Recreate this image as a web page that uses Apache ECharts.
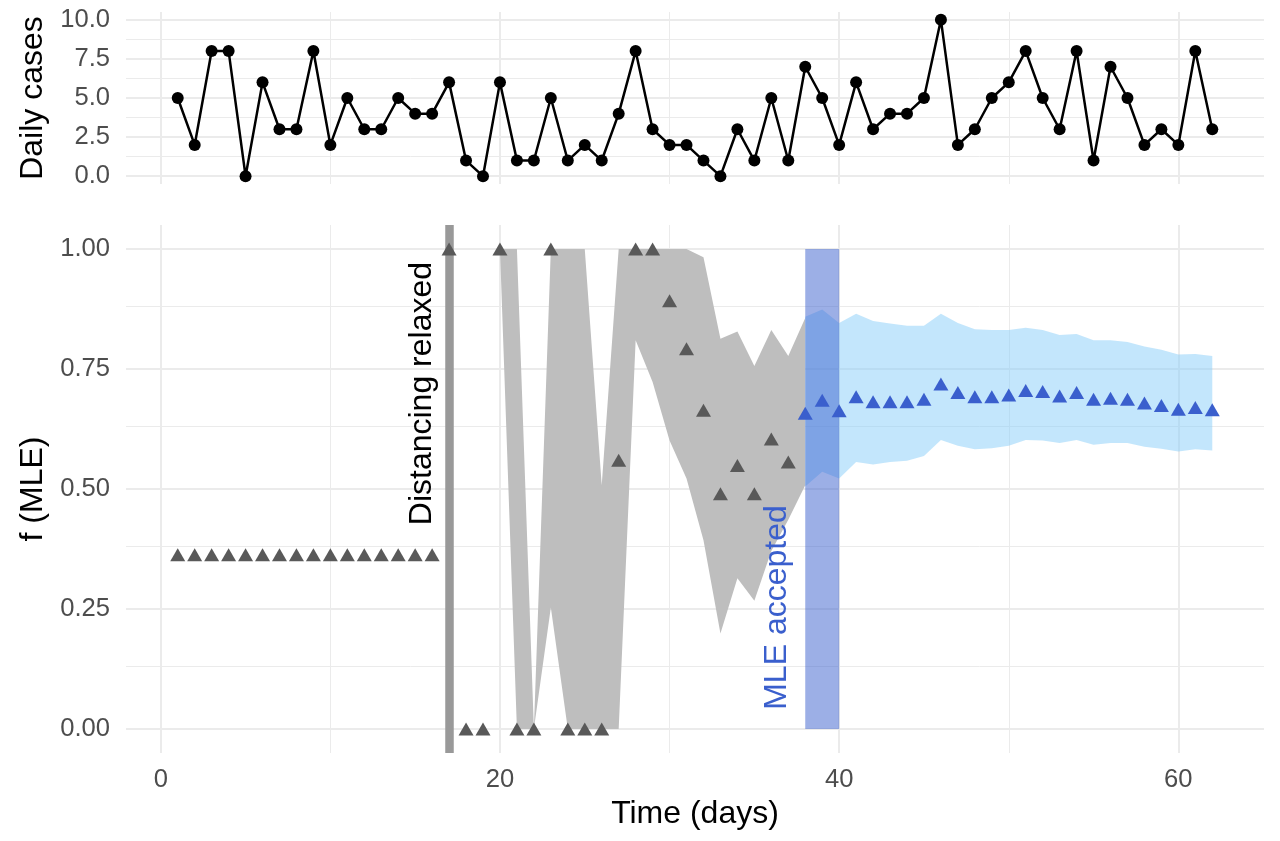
<!DOCTYPE html>
<html>
<head>
<meta charset="utf-8">
<script src="https://cdn.jsdelivr.net/npm/echarts@6/dist/echarts.min.js"></script>
<style>
  html, body { margin: 0; padding: 0; background: #fff; }
  #chart { width: 1280px; height: 841px; }
</style>
</head>
<body>
<div id="chart"></div>
<script>
(function() {
  'use strict';

  // daily case counts, days 1..62
  var days = [1, 2, 3, 4, 5, 6, 7, 8, 9, 10, 11, 12, 13, 14, 15, 16, 17, 18, 19, 20,
    21, 22, 23, 24, 25, 26, 27, 28, 29, 30, 31, 32, 33, 34, 35, 36, 37, 38, 39, 40,
    41, 42, 43, 44, 45, 46, 47, 48, 49, 50, 51, 52, 53, 54, 55, 56, 57, 58, 59, 60, 61, 62];
  var cases = [5, 2, 8, 8, 0, 6, 3, 3, 8, 2, 5, 3, 3, 5, 4, 4, 6, 1, 0, 6,
    1, 1, 5, 1, 2, 1, 4, 8, 3, 2, 2, 1, 0, 3, 1, 5, 1, 7, 5, 2,
    6, 3, 4, 4, 5, 10, 2, 3, 5, 6, 8, 5, 3, 8, 1, 7, 5, 2, 3, 2, 8, 3];

  // f (MLE) before acceptance (days 1..37)
  var grayDays = days.slice(0, 37);
  var fGray = [0.363, 0.363, 0.363, 0.363, 0.363, 0.363, 0.363, 0.363, 0.363, 0.363,
    0.363, 0.363, 0.363, 0.363, 0.363, 0.363, 1.0, 0, 0, 1.0,
    0, 0, 1.0, 0, 0, 0, 0.56, 1.0, 1.0, 0.892,
    0.792, 0.664, 0.49, 0.549, 0.49, 0.604, 0.556];

  // f (MLE) once accepted (days 38..62)
  var blueDays = days.slice(37);
  var fBlue = [0.658, 0.685, 0.663, 0.692, 0.682, 0.682, 0.682, 0.687, 0.719, 0.701,
    0.692, 0.692, 0.696, 0.705, 0.703, 0.694, 0.701, 0.687, 0.689, 0.687,
    0.679, 0.674, 0.666, 0.670, 0.665];

  // confidence bands
  var grayBandDays = days.slice(19, 38);
  var grayLo = [1.0, 0, 0, 0.253, 0, 0, 0, 0, 0.810, 0.723, 0.601, 0.522, 0.393, 0.199, 0.314, 0.267, 0.371, 0.436, 0.508];
  var grayHi = [1.0, 1.0, 0, 1.0, 1.0, 1.0, 0.508, 1.0, 1.0, 1.0, 1.0, 1.0, 0.983, 0.813, 0.828, 0.756, 0.831, 0.777, 0.856];
  var blueBandDays = days.slice(37);
  var blueLo = [0.505, 0.536, 0.522, 0.556, 0.551, 0.556, 0.559, 0.569, 0.602, 0.590,
    0.583, 0.585, 0.590, 0.602, 0.601, 0.596, 0.602, 0.592, 0.596, 0.596,
    0.588, 0.584, 0.578, 0.583, 0.580];
  var blueHi = [0.859, 0.874, 0.846, 0.865, 0.850, 0.845, 0.840, 0.840, 0.865, 0.846,
    0.833, 0.831, 0.831, 0.836, 0.831, 0.821, 0.823, 0.810, 0.810, 0.806,
    0.797, 0.790, 0.780, 0.781, 0.777];

  var relaxedDay = 17;
  var acceptedWindow = [38, 40];

  // ticks
  var xTicks = [0, 20, 40, 60];
  var xMinor = [10, 30, 50];
  var casesTicks = [0, 2.5, 5, 7.5, 10];
  var casesMinor = [1.25, 3.75, 6.25, 8.75];
  var fTicks = [0, 0.25, 0.5, 0.75, 1];
  var fMinor = [0.125, 0.375, 0.625, 0.875];

  var FONT = '"Liberation Sans", Arial, Helvetica, sans-serif';
  var GRID_COLOR = '#ebebeb';
  var GRAY_PT = '#595959';
  var BLUE_PT = '#3a5fcd';

  var notes = [
    { text: 'Distancing relaxed', x: 16.35, y: 0.973, color: '#000000', align: 'right' },
    { text: 'MLE accepted', x: 37.3, y: 0.04, color: BLUE_PT, align: 'left' }
  ];

  var gridLines = function(idx, yMajor, yMinor) {
    var lines = [];
    xTicks.forEach(function(v) { lines.push({ xAxis: v, lineStyle: { width: 2 } }); });
    xMinor.forEach(function(v) { lines.push({ xAxis: v, lineStyle: { width: 1 } }); });
    yMajor.forEach(function(v) { lines.push({ yAxis: v, lineStyle: { width: 2 } }); });
    yMinor.forEach(function(v) { lines.push({ yAxis: v, lineStyle: { width: 1 } }); });
    return {
      type: 'line',
      xAxisIndex: idx,
      yAxisIndex: idx,
      data: [],
      silent: true,
      markLine: {
        z: 0,
        silent: true,
        animation: false,
        symbol: ['none', 'none'],
        label: { show: false },
        emphasis: { disabled: true },
        lineStyle: { color: GRID_COLOR, type: 'solid' },
        data: lines
      }
    };
  };

  var band = function(xs, lo, hi, color) {
    return {
      type: 'custom',
      xAxisIndex: 1,
      yAxisIndex: 1,
      z: 1,
      silent: true,
      data: xs.map(function(x, i) { return [x, lo[i], hi[i]]; }),
      encode: { x: 0, y: [1, 2] },
      renderItem: function(params, api) {
        if (params.dataIndex !== 0) return null;
        var pts = [];
        for (var i = 0; i < xs.length; i++) pts.push(api.coord([xs[i], hi[i]]));
        for (var j = xs.length - 1; j >= 0; j--) pts.push(api.coord([xs[j], lo[j]]));
        return { type: 'polygon', shape: { points: pts }, style: { fill: color } };
      }
    };
  };

  var axisBase = {
    type: 'value',
    axisLine: { show: false },
    axisTick: { show: false },
    splitLine: { show: false }
  };

  var option = {
    animation: false,
    backgroundColor: '#ffffff',
    textStyle: { fontFamily: FONT },
    grid: [
      { left: 126, right: 16, top: 12, height: 172 },
      { left: 126, right: 16, top: 225, height: 528 }
    ],
    xAxis: [
      Object.assign({}, axisBase, {
        gridIndex: 0, min: -2.05, max: 65.05,
        axisLabel: { show: false }
      }),
      Object.assign({}, axisBase, {
        gridIndex: 1, min: -2.05, max: 65.05,
        axisLabel: {
          customValues: xTicks, color: '#4d4d4d', fontSize: 25.6, margin: 14,
          formatter: function(v) { return String(v); }
        },
        name: 'Time (days)', nameLocation: 'middle', nameGap: 45,
        nameTextStyle: { color: '#000', fontSize: 32 }
      })
    ],
    yAxis: [
      Object.assign({}, axisBase, {
        gridIndex: 0, min: -0.5, max: 10.5,
        axisLabel: {
          customValues: casesTicks, color: '#4d4d4d', fontSize: 25.6, margin: 16,
          formatter: function(v) { return v.toFixed(1); }
        },
        name: 'Daily cases', nameLocation: 'middle', nameGap: 74, nameRotate: 90,
        nameTextStyle: { color: '#000', fontSize: 32 }
      }),
      Object.assign({}, axisBase, {
        gridIndex: 1, min: -0.05, max: 1.05,
        axisLabel: {
          customValues: fTicks, color: '#4d4d4d', fontSize: 25.6, margin: 16,
          formatter: function(v) { return v.toFixed(2); }
        },
        name: 'f (MLE)', nameLocation: 'middle', nameGap: 74, nameRotate: 90,
        nameTextStyle: { color: '#000', fontSize: 32 }
      })
    ],
    series: [
      gridLines(0, casesTicks, casesMinor),
      gridLines(1, fTicks, fMinor),
      {
        type: 'line',
        xAxisIndex: 0,
        yAxisIndex: 0,
        z: 3,
        data: days.map(function(d, i) { return [d, cases[i]]; }),
        symbol: 'circle',
        symbolSize: 12,
        itemStyle: { color: '#000' },
        lineStyle: { color: '#000', width: 2.5 }
      },
      {
        type: 'line',
        xAxisIndex: 1,
        yAxisIndex: 1,
        data: [],
        silent: true,
        markLine: {
          z: 1,
          silent: true,
          animation: false,
          symbol: ['none', 'none'],
          label: { show: false },
          emphasis: { disabled: true },
          lineStyle: { color: '#999999', width: 8.5, type: 'solid' },
          data: [{ xAxis: relaxedDay }]
        }
      },
      band(grayBandDays, grayLo, grayHi, '#bebebe'),
      band(blueBandDays, blueLo, blueHi, 'rgba(135,206,250,0.5)'),
      {
        type: 'custom',
        xAxisIndex: 1,
        yAxisIndex: 1,
        z: 1,
        silent: true,
        data: [[acceptedWindow[0], acceptedWindow[1], 0, 1]],
        encode: { x: [0, 1], y: [2, 3] },
        renderItem: function(params, api) {
          var p0 = api.coord([api.value(0), api.value(3)]);
          var p1 = api.coord([api.value(1), api.value(2)]);
          return {
            type: 'rect',
            shape: { x: p0[0], y: p0[1], width: p1[0] - p0[0], height: p1[1] - p0[1] },
            style: { fill: 'rgba(58,95,205,0.5)' }
          };
        }
      },
      {
        type: 'scatter',
        xAxisIndex: 1,
        yAxisIndex: 1,
        z: 3,
        symbol: 'triangle',
        symbolSize: [15, 13],
        itemStyle: { color: GRAY_PT, opacity: 1 },
        data: grayDays.map(function(d, i) { return [d, fGray[i]]; })
      },
      {
        type: 'scatter',
        xAxisIndex: 1,
        yAxisIndex: 1,
        z: 3,
        symbol: 'triangle',
        symbolSize: [15, 13],
        itemStyle: { color: BLUE_PT, opacity: 1 },
        data: blueDays.map(function(d, i) { return [d, fBlue[i]]; })
      },
      {
        type: 'custom',
        xAxisIndex: 1,
        yAxisIndex: 1,
        z: 4,
        silent: true,
        data: notes.map(function(n) { return [n.x, n.y]; }),
        renderItem: function(params, api) {
          var n = notes[params.dataIndex];
          var p = api.coord([api.value(0), api.value(1)]);
          return {
            type: 'text',
            x: p[0],
            y: p[1],
            rotation: Math.PI / 2,
            style: {
              text: n.text,
              fill: n.color,
              font: '32px ' + FONT,
              align: n.align,
              verticalAlign: 'bottom'
            }
          };
        }
      }
    ]
  };

  var chart = echarts.init(document.getElementById('chart'));
  chart.setOption(option);
})();
</script>
</body>
</html>
